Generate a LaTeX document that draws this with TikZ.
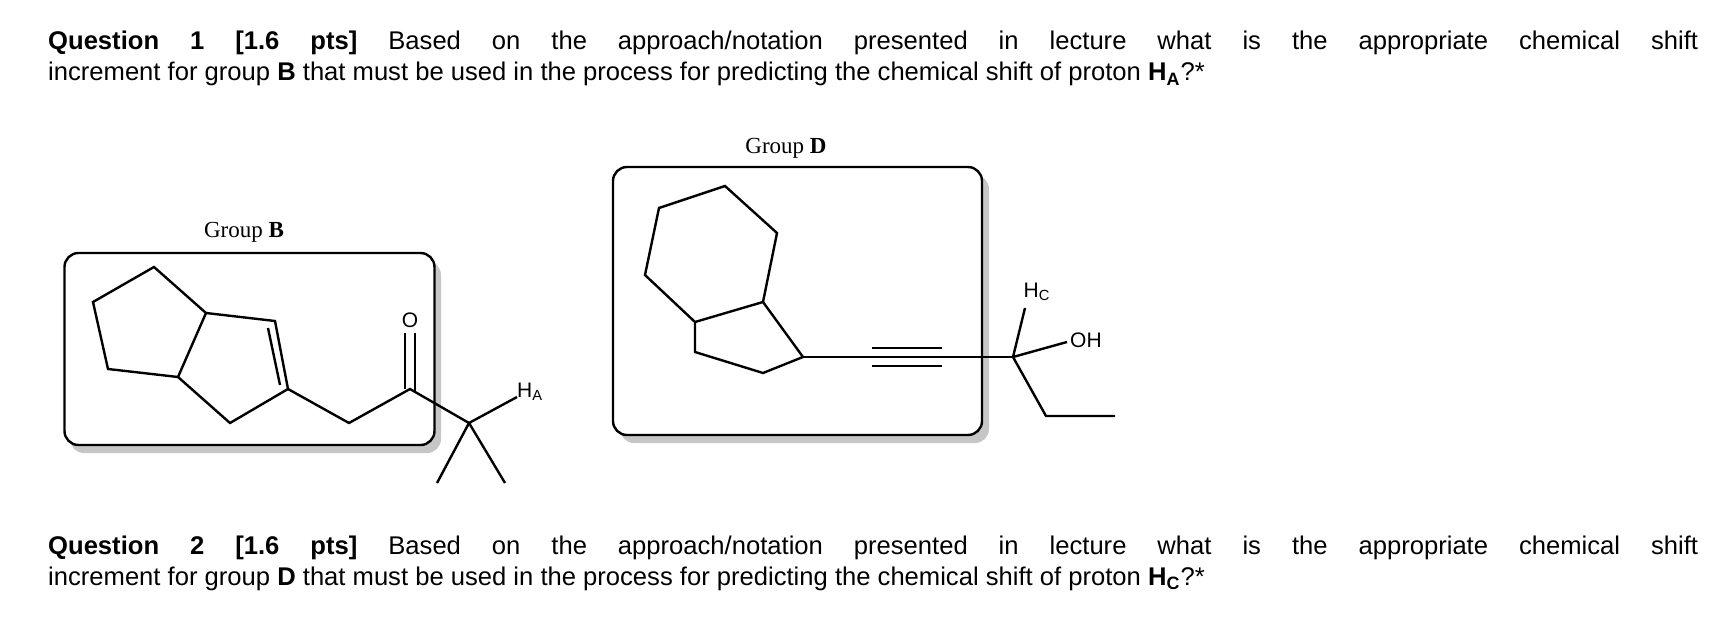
\documentclass[tikz,border=0pt]{standalone}
\usepackage{fontspec}
\setmainfont{Liberation Serif}
\newfontfamily\arial{Liberation Sans}
\begin{document}
\begin{tikzpicture}[x=0.5pt,y=-0.5pt,line width=1.2pt,
  bond/.style={line width=1.2pt,line join=miter},
  qtext/.style={anchor=base west,inner sep=0,font=\arial\fontsize{12.8}{15}\selectfont},
  atom/.style={inner sep=0,font=\arial\fontsize{10.5}{12}\selectfont},
  grp/.style={inner sep=0,font=\fontsize{11.5}{13}\selectfont},
  groupbox/.style={draw,line width=1.2pt,rounded corners=7pt,fill=white}]
\useasboundingbox (0,0) rectangle (1724,626);
% question text
\node[qtext] (q1a) at (47,50) {\makebox[825pt][s]{\textbf{Question 1 [1.6 pts]} Based on the approach/notation presented in lecture what is the appropriate chemical shift}};
\node[qtext] (q1b) at (47,81) {increment for group \textbf{B} that must be used in the process for predicting the chemical shift of proton \textbf{H\textsubscript{A}}?*};
\node[qtext] (q2a) at (47,554) {\makebox[825pt][s]{\textbf{Question 2 [1.6 pts]} Based on the approach/notation presented in lecture what is the appropriate chemical shift}};
\node[qtext] (q2b) at (47,585) {increment for group \textbf{D} that must be used in the process for predicting the chemical shift of proton \textbf{H\textsubscript{C}}?*};
% boxes
\fill[gray!45,rounded corners=7pt] (70,261) rectangle (441,453);
\node[groupbox,minimum width=185pt,minimum height=96pt] (boxB) at (249.5,349) {};
\fill[gray!45,rounded corners=7pt] (620,175) rectangle (989,443);
\node[groupbox,minimum width=184.5pt,minimum height=134pt] (boxD) at (797.5,301) {};
\node[grp] (gB) at (244,232) {Group \textbf{B}};
\node[grp] (gD) at (786,148) {Group \textbf{D}};
% molecule B
\foreach \n/\p in {a1/{154,267},a2/{93,302},a3/{108,369},a4/{178,377},a5/{206,313},a6/{275,321},a7/{288,389},a8/{230,423},a9/{349,423},a10/{410,389},a11/{469,423},m1/{437,483},m2/{505,483},hb/{517,397}}
  \coordinate (\n) at (\p);
\node[atom] (O) at (410,320) {O};
\node[atom,anchor=west] (HA) at (516,392) {H\textsubscript{A}};
\draw[bond] (a1)--(a2)--(a3)--(a4)--(a5)--cycle;
\draw[bond] (a5)--(a6)--(a7)--(a8)--(a4);
\draw[bond] (268,328)--(280,385);
\draw[bond] (a7)--(a9)--(a10)--(a11);
\draw[bond] (405,333)--(405,389) (415,333)--(415,392);
\draw[bond] (a11)--(m1) (a11)--(m2) (a11)--(hb);
% molecule D
\foreach \n/\p in {d1/{725,186},d2/{659,208},d3/{645,275},d4/{695,322},d5/{763,302},d6/{777,233},d7/{695,352},d8/{763,373},d9/{803,357},t1/{872,357},t2/{942,357},e1/{1013,357},hc/{1025,308},oh/{1067,342},e2/{1046,416},e3/{1115,416}}
  \coordinate (\n) at (\p);
\node[atom] (HC) at (1037,292) {H\textsubscript{C}};
\node[atom,anchor=west] (OH) at (1069,340) {OH};
\draw[bond] (d1)--(d2)--(d3)--(d4)--(d5)--(d6)--cycle;
\draw[bond] (d4)--(d7)--(d8)--(d9)--(d5);
\draw[bond] (d9)--(e1);
\draw[bond] (872,348)--(942,348) (872,366)--(942,366);
\draw[bond] (e1)--(hc) (e1)--(oh) (e1)--(e2)--(e3);
\end{tikzpicture}
\end{document}
